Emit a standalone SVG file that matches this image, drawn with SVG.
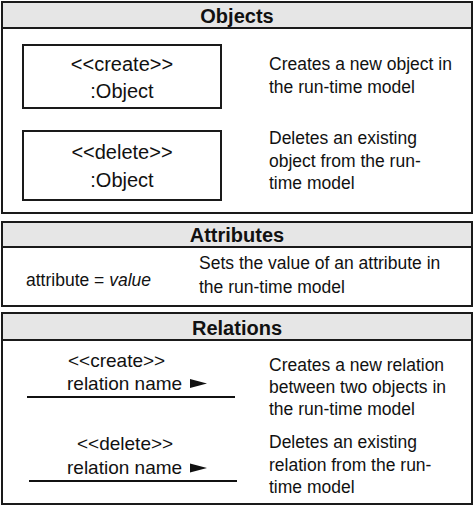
<svg xmlns="http://www.w3.org/2000/svg" width="474" height="506" viewBox="0 0 474 506">
<style>
.frame{fill:#fff;stroke:#1a1a1a;stroke-width:2}
.hdr{fill:#e6e6e6;stroke:#1a1a1a;stroke-width:2}
.box{fill:#fff;stroke:#1a1a1a;stroke-width:2}
.title{font-family:"Liberation Sans",Arial,sans-serif;font-weight:bold;font-size:20px;fill:#111;text-anchor:middle}
.obj{font-family:"Liberation Sans",Arial,sans-serif;font-size:20px;fill:#111;text-anchor:middle}
.desc{font-family:"Liberation Sans",Arial,sans-serif;font-size:17.5px;fill:#111}
.rel{font-family:"Liberation Sans",Arial,sans-serif;font-size:19px;fill:#111}
.line{stroke:#111;stroke-width:2}
.tri{fill:#111}
</style>
<rect width="474" height="506" fill="#fff"/>
<g id="objects">
<rect class="frame" x="2" y="2" width="470" height="211"/>
<rect class="hdr" x="2" y="2" width="470" height="26"/>
<text class="title" x="237" y="23">Objects</text>
<g id="create-object">
<rect class="box" x="23" y="45" width="198" height="63"/>
<text class="obj" x="122" y="71">&lt;&lt;create&gt;&gt;</text>
<text class="obj" x="122" y="98">:Object</text>
<text class="desc" x="269" y="70">Creates a new object in</text>
<text class="desc" x="269" y="93">the run-time model</text>
</g>
<g id="delete-object">
<rect class="box" x="23" y="131" width="198" height="69"/>
<text class="obj" x="122" y="159">&lt;&lt;delete&gt;&gt;</text>
<text class="obj" x="122" y="187">:Object</text>
<text class="desc" x="269" y="144">Deletes an existing</text>
<text class="desc" x="269" y="167">object from the run-</text>
<text class="desc" x="269" y="189">time model</text>
</g>
</g>
<g id="attributes">
<rect class="frame" x="2" y="222" width="470" height="84"/>
<rect class="hdr" x="2" y="222" width="470" height="25"/>
<text class="title" x="237" y="242">Attributes</text>
<text class="desc" x="26" y="286">attribute = <tspan font-style="italic">value</tspan></text>
<text class="desc" x="199" y="269">Sets the value of an attribute in</text>
<text class="desc" x="199" y="293">the run-time model</text>
</g>
<g id="relations">
<rect class="frame" x="2" y="313" width="470" height="191"/>
<rect class="hdr" x="2" y="313" width="470" height="27"/>
<text class="title" x="237" y="335">Relations</text>
<g id="create-relation">
<text class="rel" x="68" y="367">&lt;&lt;create&gt;&gt;</text>
<text class="rel" x="67" y="390">relation name</text>
<polygon class="tri" points="190,379 207,383.5 190,388"/>
<text class="desc" x="269" y="371">Creates a new relation</text>
<text class="desc" x="269" y="393">between two objects in</text>
<text class="desc" x="269" y="415">the run-time model</text>
</g>
<g id="delete-relation">
<text class="rel" x="77" y="450">&lt;&lt;delete&gt;&gt;</text>
<text class="rel" x="67" y="474">relation name</text>
<polygon class="tri" points="190,463.5 207,468 190,472.5"/>
<text class="desc" x="269" y="448">Deletes an existing</text>
<text class="desc" x="269" y="471">relation from the run-</text>
<text class="desc" x="269" y="493">time model</text>
</g>
</g>
<g id="connectors">
<line class="line" x1="27" y1="397" x2="235" y2="397"/>
<line class="line" x1="29" y1="481" x2="237" y2="481"/>
</g>
</svg>
